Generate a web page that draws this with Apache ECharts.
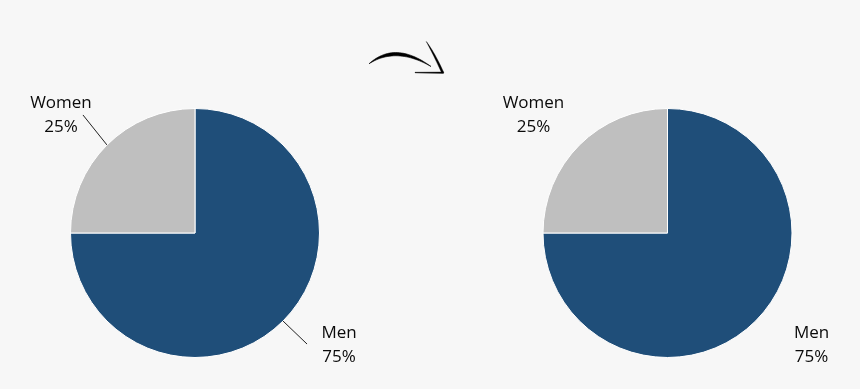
<!DOCTYPE html>
<html>
<head>
<meta charset="utf-8">
<script src="https://cdn.jsdelivr.net/npm/echarts@6/dist/echarts.min.js"></script>
<style>
html,body{margin:0;padding:0;background:#f7f7f7;}
#c{width:860px;height:389px;}
</style>
</head>
<body>
<div id="c"></div>
<script>
// Data
const categories = ['Men', 'Women'];
const beforeValues = [75, 25];
const afterValues = [75, 25];
const colors = ['#1f4e79', '#bfbfbf'];

// label line direction (from slice edge) and text offset from line end
const LINE_VEC = [[24, 23], [-24, -30]];
const TEXT_OFF = [[32, 1], [-22, 0]];

function makeLayout() {
  return function (p) {
    const pts = p.labelLinePoints;
    if (!pts) return {};
    const s = pts[0];
    const v = LINE_VEC[p.dataIndex];
    const o = TEXT_OFF[p.dataIndex];
    const e = [s[0] + v[0], s[1] + v[1]];
    return {
      x: e[0] + o[0],
      y: e[1] + o[1],
      align: 'center',
      verticalAlign: 'middle',
      labelLinePoints: [s, e, e]
    };
  };
}

function pieSeries(values, centerX, showLine) {
  return {
    type: 'pie',
    center: [centerX, 233],
    radius: [0, 124.5],
    startAngle: 90,
    clockwise: true,
    silent: true,
    avoidLabelOverlap: false,
    data: categories.map((c, i) => ({ name: c, value: values[i], itemStyle: { color: colors[i] } })),
    itemStyle: { borderColor: '#ffffff', borderWidth: 1 },
    label: {
      show: true,
      position: 'outside',
      formatter: '{b}\n{d}%',
      fontFamily: 'Open Sans',
      fontSize: 17,
      lineHeight: 24,
      color: '#0a0a0a'
    },
    labelLine: {
      show: true,
      length: 20,
      length2: 0,
      lineStyle: { color: '#222222', width: 1, opacity: showLine ? 1 : 0 }
    },
    labelLayout: makeLayout()
  };
}

// quadratic bezier sampler for the decorative arrow stroke shapes
function quad(p0, c, p1, n) {
  const out = [];
  for (let i = 0; i <= n; i++) {
    const t = i / n, u = 1 - t;
    out.push([u * u * p0[0] + 2 * u * t * c[0] + t * t * p1[0],
              u * u * p0[1] + 2 * u * t * c[1] + t * t * p1[1]]);
  }
  return out;
}
const arcTop = quad([369, 63.8], [395, 40], [431, 66.5], 30);
const arcBot = quad([431, 66.5], [396, 46.5], [369, 63.8], 30);
const diagA = quad([426.3, 41.5], [435, 53], [443.8, 72.6], 12);
const diagB = quad([441.6, 72.8], [434, 56], [426.3, 41.5], 12);

const chart = echarts.init(document.getElementById('c'), null, { renderer: 'canvas' });
chart.setOption({
  backgroundColor: '#f7f7f7',
  animation: false,
  series: [
    pieSeries(beforeValues, 195, true),
    pieSeries(afterValues, 667.5, false)
  ],
  graphic: [
    {
      type: 'polygon',
      shape: { points: arcTop.concat(arcBot) },
      style: { fill: '#000000', stroke: '#000000', lineWidth: 0.6 }
    },
    {
      type: 'polygon',
      shape: { points: diagA.concat(diagB) },
      style: { fill: '#000000', stroke: '#000000', lineWidth: 0.4 }
    },
    {
      type: 'polygon',
      shape: { points: [[415, 72.2], [443.5, 71.9], [443.5, 73.4], [415, 72.9]] },
      style: { fill: '#000000', stroke: '#000000', lineWidth: 0.3 }
    }
  ]
});
</script>
</body>
</html>
